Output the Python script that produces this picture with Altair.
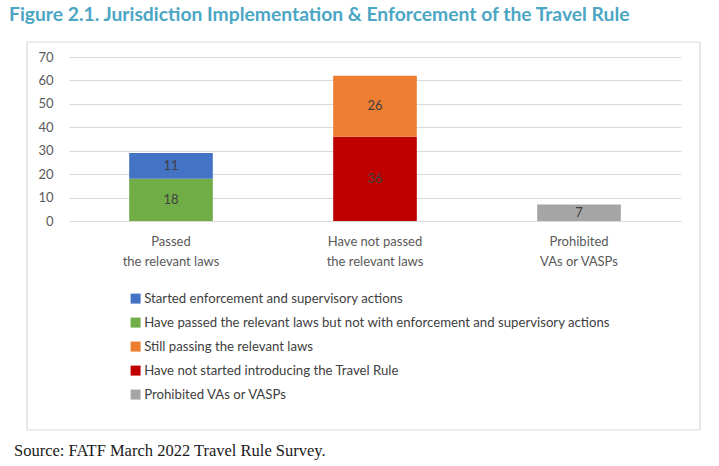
import altair as alt
import pandas as pd

# Survey counts by jurisdiction group and Travel Rule status
categories = [
    "Passed|the relevant laws",
    "Passed|the relevant laws",
    "Have not passed|the relevant laws",
    "Have not passed|the relevant laws",
    "Prohibited|VAs or VASPs",
]
statuses = [
    "Have passed the relevant laws but not with enforcement and supervisory actions",
    "Started enforcement and supervisory actions",
    "Have not started introducing the Travel Rule",
    "Still passing the relevant laws",
    "Prohibited VAs or VASPs",
]
values = [18, 11, 36, 26, 7]
stack_order = [0, 1, 0, 1, 0]

legend_order = [
    "Started enforcement and supervisory actions",
    "Have passed the relevant laws but not with enforcement and supervisory actions",
    "Still passing the relevant laws",
    "Have not started introducing the Travel Rule",
    "Prohibited VAs or VASPs",
]
legend_colors = ["#4472C4", "#70AD47", "#ED7D31", "#C00000", "#A5A5A5"]
category_order = ["Passed|the relevant laws", "Have not passed|the relevant laws", "Prohibited|VAs or VASPs"]

df = pd.DataFrame({
    "category": categories,
    "status": statuses,
    "value": values,
    "ord": stack_order,
})

FONT = "Lato"
W, H = 612, 164

base = alt.Chart(df).transform_stack(
    stack="value", groupby=["category"], sort=[alt.SortField("ord")], as_=["y0", "y1"]
).transform_calculate(mid="(datum.y0 + datum.y1) / 2")

y_scale = alt.Scale(domain=[0, 70])
y_axis = alt.Axis(
    title=None, values=list(range(0, 71, 10)), ticks=False, domain=False,
    gridColor="#D9D9D9", gridWidth=1.2,
    labelFont=FONT, labelFontSize=13, labelColor="#595959", labelPadding=16,
)

x_enc = alt.X(
    "category:N",
    sort=category_order,
    scale=alt.Scale(paddingInner=0.59, paddingOuter=0.295),
    axis=alt.Axis(
        title=None, labelAngle=0, ticks=False, domain=False,
        labelExpr="split(datum.label, '|')",
        labelFont=FONT, labelFontSize=13, labelColor="#595959",
        labelPadding=14, labelLineHeight=20,
    ),
)

bars = base.mark_bar().encode(
    x=x_enc,
    y=alt.Y("y0:Q", scale=y_scale, axis=y_axis),
    y2="y1:Q",
    color=alt.Color(
        "status:N",
        scale=alt.Scale(domain=legend_order, range=legend_colors),
        legend=alt.Legend(
            title=None, orient="none", legendX=60, legendY=71 + 164,
            symbolType="square", symbolSize=100, symbolStrokeWidth=0,
            labelFont=FONT, labelFontSize=13.2, labelColor="#404040",
            labelOffset=2, rowPadding=10, labelLimit=600,
        ),
    ),
)

labels = base.mark_text(font=FONT, fontSize=13, color="#404040").encode(
    x=alt.X("category:N", sort=category_order),
    y=alt.Y("mid:Q", scale=y_scale, axis=y_axis),
    text="value:Q",
)

# outer frame around the figure body
frame_df = pd.DataFrame({"k": [0]})
frame = alt.Chart(frame_df).mark_rect(
    fill="transparent", stroke="#D9D9D9", strokeWidth=1.2, clip=False
).encode(
    x=alt.value(-42), x2=alt.value(631), y=alt.value(-15), y2=alt.value(373)
)

source = alt.Chart(frame_df).mark_text(
    text="Source: FATF March 2022 Travel Rule Survey.",
    font="Liberation Serif", fontSize=16.5, color="#1a1a1a",
    align="left", baseline="middle", clip=False,
).encode(x=alt.value(-55), y=alt.value(394))

chart = alt.layer(frame, bars, labels, source).properties(
    width=W, height=H,
    autosize=alt.AutoSizeParams(type="none"),
    padding={"left": 69, "top": 57, "right": 38, "bottom": 245},
    title=alt.TitleParams(
        "Figure 2.1. Jurisdiction Implementation & Enforcement of the Travel Rule",
        anchor="start", frame="group", dx=-60, offset=16,
        font=FONT, fontSize=19.3, fontWeight="bold", color="#4BA6C4",
    ),
).configure_view(stroke=None)

chart.save("out.html", embed_options={"renderer": "svg", "actions": False})
